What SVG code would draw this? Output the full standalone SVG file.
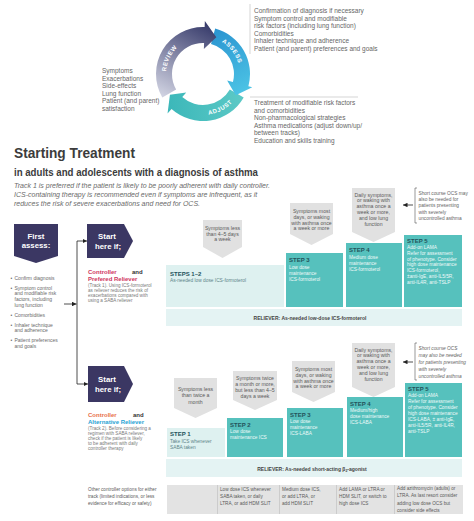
<svg xmlns="http://www.w3.org/2000/svg" width="474" height="521" viewBox="0 0 474 521">
<defs>
<style>
text{font-family:"Liberation Sans",Arial,sans-serif}
.g{fill:#666;font-size:6.5px}
.it{font-style:italic;fill:#6a6a6a;font-size:7px}
.nv{fill:#3b3763}
.wb{fill:#fff;font-weight:bold;text-anchor:middle;font-size:7.8px}
.bl{fill:#6b6b6b;font-size:5px}
.tt{fill:#7a7a7a;font-size:4.6px}
.tc{font-size:6px;font-weight:bold}
.call{fill:#e1e1e1}
.ct{fill:#5a5a5a;font-size:5.2px;text-anchor:middle}
.teal{fill:#56c1bd}
.lt{fill:#def1f0}
.rel{fill:#e4f3f3}
.sl{fill:#24535b;font-size:6px;font-weight:bold}
.sc{fill:#effaf9;font-size:4.8px}
.sc2{fill:#5d8589;font-size:4.8px}
.rt{fill:#444;font-size:5px;font-weight:bold;text-anchor:middle}
.br{fill:#666;font-size:4.8px}
.tb{fill:#5a5a5a;font-size:4.7px}
.ln{stroke:#222;stroke-width:0.8;fill:none}
.thin{stroke:#bbb;stroke-width:0.6;fill:none}
.lab{fill:#fff;font-size:6px;font-weight:bold;letter-spacing:0.6px}
</style>
<linearGradient id="gRev" gradientUnits="userSpaceOnUse" x1="170" y1="104" x2="214" y2="24"><stop offset="0" stop-color="#dadce9"/><stop offset="1" stop-color="#363a6a"/></linearGradient>
<linearGradient id="gAss" gradientUnits="userSpaceOnUse" x1="216" y1="28" x2="250" y2="94"><stop offset="0" stop-color="#2a93d0"/><stop offset="1" stop-color="#4ec6e6"/></linearGradient>
<linearGradient id="gAdj" gradientUnits="userSpaceOnUse" x1="246" y1="97" x2="170" y2="108"><stop offset="0" stop-color="#5cc9c6"/><stop offset="1" stop-color="#3bb7b9"/></linearGradient>
<marker id="ah" viewBox="0 0 6 6" refX="6" refY="3" markerWidth="4.5" markerHeight="4.5" orient="auto" markerUnits="userSpaceOnUse"><path d="M0,0 L6,3 L0,6 z" fill="#222"/></marker>
<path id="pRev" d="M171.23,85.65 A37,37 0 0,1 193.35,38.23"/>
<path id="pAss" d="M222.80,40.03 A37,37 0 0,1 242.05,64.68"/>
<path id="pAdj" d="M203.86,113.94 A41,41 0 0,0 240.39,95.33"/>
</defs>
<rect width="474" height="521" fill="#fff"/>

<g id="cycle" transform="translate(-3,1)">
<path d="M246.70,96.5 A47,47 0 0,1 174.55,107.93 L170.54,112.38 L172.93,93.67 L189.27,91.58 L185.26,96.04 A31,31 0 0,0 232.85,88.5 Z" fill="url(#gAdj)"/>
<path d="M218.16,27.60 A47,47 0 0,1 251.40,85.16 L255.3,86.2 L238.71,94.24 L230.15,79.47 L235.94,81.02 A31,31 0 0,0 214.02,43.06 Z" fill="url(#gAss)"/>
<path d="M165.30,96.5 A47,47 0 0,1 207.64,26.03 L207.85,20.03 L219.34,36.35 L206.87,48.01 L207.08,42.02 A31,31 0 0,0 179.15,88.5 Z" fill="url(#gRev)"/>
<text class="lab"><textPath href="#pRev" startOffset="50%" text-anchor="middle">REVIEW</textPath></text>
<text class="lab"><textPath href="#pAss" startOffset="50%" text-anchor="middle">ASSESS</textPath></text>
<text class="lab"><textPath href="#pAdj" startOffset="50%" text-anchor="middle">ADJUST</textPath></text>
</g>

<g id="review-text">
<text class="g" x="102" y="73">Symptoms</text>
<text class="g" x="102" y="80.5">Exacerbations</text>
<text class="g" x="102" y="88">Side-effects</text>
<text class="g" x="102" y="95.5">Lung function</text>
<text class="g" x="102" y="103">Patient (and parent)</text>
<text class="g" x="102" y="110.5">satisfaction</text>
</g>

<g id="assess-text">
<path class="thin" d="M250,4 L250,54"/>
<text class="g" x="254" y="13">Confirmation of diagnosis if necessary</text>
<text class="g" x="254" y="20.5">Symptom control and modifiable</text>
<text class="g" x="254" y="28">risk factors (including lung function)</text>
<text class="g" x="254" y="35.5">Comorbidities</text>
<text class="g" x="254" y="43">Inhaler technique and adherence</text>
<text class="g" x="254" y="50.5">Patient (and parent) preferences and goals</text>
</g>

<g id="adjust-text">
<path class="thin" d="M250,97 L358,97"/>
<text class="g" x="254" y="105">Treatment of modifiable risk factors</text>
<text class="g" x="254" y="112.5">and comorbidities</text>
<text class="g" x="254" y="120">Non-pharmacological strategies</text>
<text class="g" x="254" y="127.5">Asthma medications (adjust down/up/</text>
<text class="g" x="254" y="135">between tracks)</text>
<text class="g" x="254" y="143">Education and skills training</text>
</g>

<g id="title">
<text x="14" y="158" font-size="15.5" font-weight="bold" fill="#3c3c3c" textLength="121" lengthAdjust="spacingAndGlyphs">Starting Treatment</text>
<text x="14" y="176" font-size="10.3" font-weight="bold" fill="#3c3c3c" textLength="244" lengthAdjust="spacingAndGlyphs">in adults and adolescents with a diagnosis of asthma</text>
<text class="it" x="14" y="188">Track 1 is preferred if the patient is likely to be poorly adherent with daily controller.</text>
<text class="it" x="14" y="197">ICS-containing  therapy is recommended even if symptoms are infrequent, as it</text>
<text class="it" x="14" y="206">reduces the risk of severe exacerbations and need for OCS.</text>
</g>

<g id="first-assess">
<polygon class="nv" points="14,224 58,224 58,256 36,263 14,256"/>
<text class="wb" x="36" y="239" font-size="8">First</text>
<text class="wb" x="36" y="248" font-size="8">assess:</text>
<g class="bl">
<text x="10.5" y="279.5">•</text><text x="14.5" y="279.5">Confirm diagnosis</text>
<text x="10.5" y="289.5">•</text><text x="14.5" y="289.5">Symptom control</text>
<text x="14.5" y="295.3">and modifiable risk</text>
<text x="14.5" y="301.1">factors, including</text>
<text x="14.5" y="306.9">lung function</text>
<text x="10.5" y="316.5">•</text><text x="14.5" y="316.5">Comorbidities</text>
<text x="10.5" y="326.5">•</text><text x="14.5" y="326.5">Inhaler technique</text>
<text x="14.5" y="332.3">and adherence</text>
<text x="10.5" y="342">•</text><text x="14.5" y="342">Patient preferences</text>
<text x="14.5" y="347.8">and goals</text>
</g>
</g>

<g id="connectors">
<path class="ln" d="M77,241 L77,384"/>
<path class="ln" d="M77,241 L87,241" marker-end="url(#ah)"/>
<path class="ln" d="M77,384 L88,384" marker-end="url(#ah)"/>
<path class="ln" d="M64,304 L76.5,304" marker-end="url(#ah)"/>
<path class="ln" d="M413,205 L403,205" marker-end="url(#ah)"/>
<path class="ln" d="M413,362 L403,362" marker-end="url(#ah)"/>
</g>

<g id="track1-start">
<polygon class="nv" points="87,224 124,224 133,241 124,258 87,258"/>
<text class="wb" x="107" y="239">Start</text>
<text class="wb" x="108" y="249">here if;</text>
<text class="tc" x="88" y="274" fill="#cf3560">Controller</text>
<text class="tc" x="132" y="274" fill="#333">and</text>
<text class="tc" x="88" y="280.5" fill="#cf3560">Prefered Reliever</text>
<text class="tt" x="88" y="287">(Track 1). Using ICS-formoterol</text>
<text class="tt" x="88" y="292">as reliever reduces the risk of</text>
<text class="tt" x="88" y="297">exacerbations compared with</text>
<text class="tt" x="88" y="302">using a SABA reliever</text>
</g>

<g id="t1-call-a">
<polygon class="call" points="203,220 242,220 242,247 222.5,258 203,247"/>
<text class="ct" x="222.5" y="230">Symptoms less</text>
<text class="ct" x="222.5" y="235.5">than 4–5 days</text>
<text class="ct" x="222.5" y="241">a week</text>
</g>
<g id="t1-call-b">
<polygon class="call" points="290,203 333,203 333,234 311.5,245 290,234"/>
<text class="ct" x="311.5" y="213">Symptoms most</text>
<text class="ct" x="311.5" y="218.8">days, or waking</text>
<text class="ct" x="311.5" y="224.6">with asthma once</text>
<text class="ct" x="311.5" y="230.4">a week or more</text>
</g>
<g id="t1-call-c">
<polygon class="call" points="352,188 395,188 395,232 373.5,242 352,232"/>
<text class="ct" x="373.5" y="196.5">Daily symptoms,</text>
<text class="ct" x="373.5" y="202.3">or waking with</text>
<text class="ct" x="373.5" y="208.1">asthma once a</text>
<text class="ct" x="373.5" y="213.9">week or more,</text>
<text class="ct" x="373.5" y="219.7">and low lung</text>
<text class="ct" x="373.5" y="225.5">function</text>
</g>
<g id="t1-ocs">
<path d="M417,188 L415,188 L415,223 L417,223" stroke="#555" stroke-width="0.6" fill="none"/>
<text class="br" x="418.5" y="194.5">Short course OCS may</text>
<text class="br" x="418.5" y="200.9">also be needed for</text>
<text class="br" x="418.5" y="207.3">patients presenting</text>
<text class="br" x="418.5" y="213.7">with severely</text>
<text class="br" x="418.5" y="220.1">uncontrolled asthma</text>
</g>

<g id="t1-steps12">
<rect class="lt" x="166" y="265" width="118" height="42"/>
<text class="sl" x="170" y="275.5">STEPS 1–2</text>
<text class="sc2" x="170" y="282">As-needed low dose ICS-formoterol</text>
</g>
<g id="t1-step3">
<rect class="teal" x="286" y="253" width="57" height="54"/>
<text class="sl" x="289" y="262">STEP 3</text>
<text class="sc" x="289" y="269">Low dose</text>
<text class="sc" x="289" y="275">maintenance</text>
<text class="sc" x="289" y="281">ICS-formoterol</text>
</g>
<g id="t1-step4">
<rect class="teal" x="346" y="243" width="56" height="64"/>
<text class="sl" x="349" y="252">STEP 4</text>
<text class="sc" x="349" y="259">Medium dose</text>
<text class="sc" x="349" y="265">maintenance</text>
<text class="sc" x="349" y="271">ICS-formoterol</text>
</g>
<g id="t1-step5">
<rect class="teal" x="404" y="235" width="58" height="72"/>
<text class="sl" x="407" y="243">STEP 5</text>
<text class="sc" x="407" y="249">Add-on LAMA</text>
<text class="sc" x="407" y="254.8">Refer for assessment</text>
<text class="sc" x="407" y="260.6">of phenotype. Consider</text>
<text class="sc" x="407" y="266.4">high dose maintenance</text>
<text class="sc" x="407" y="272.2">ICS-formoterol,</text>
<text class="sc" x="407" y="278">±anti-IgE, anti-IL5/5R,</text>
<text class="sc" x="407" y="283.8">anti-IL4R, anti-TSLP</text>
</g>
<g id="t1-reliever">
<rect class="rel" x="166" y="309" width="296" height="17"/>
<text class="rt" x="310" y="319.5">RELIEVER: As-needed low-dose ICS-formoterol</text>
</g>

<g id="track2-start">
<polygon class="nv" points="88,366 124,366 133,384 124,402 88,402"/>
<text class="wb" x="107" y="381.5">Start</text>
<text class="wb" x="108" y="391.5">here if;</text>
<text class="tc" x="88" y="417" fill="#e8704a">Controller</text>
<text class="tc" x="133" y="417" fill="#333">and</text>
<text class="tc" x="88" y="423.5" fill="#27a3d4">Alternative Reliever</text>
<text class="tt" x="88" y="429.5">(Track 2). Before considering a</text>
<text class="tt" x="88" y="434.5">regimen with SABA reliever,</text>
<text class="tt" x="88" y="439.5">check if the patient is likely</text>
<text class="tt" x="88" y="444.5">to be adherent with daily</text>
<text class="tt" x="88" y="449.5">controller therapy</text>
</g>

<g id="t2-call-d">
<polygon class="call" points="174,378 217,378 217,408 195.5,418 174,408"/>
<text class="ct" x="195.5" y="391">Symptoms less</text>
<text class="ct" x="195.5" y="397.3">than twice a</text>
<text class="ct" x="195.5" y="403.6">month</text>
</g>
<g id="t2-call-e">
<polygon class="call" points="233,371 277,371 277,400 255,410 233,400"/>
<text class="ct" x="255" y="379.5">Symptoms twice</text>
<text class="ct" x="255" y="385.8">a month or more,</text>
<text class="ct" x="255" y="392.1">but less than 4–5</text>
<text class="ct" x="255" y="398.4">days a week</text>
</g>
<g id="t2-call-f">
<polygon class="call" points="292,361 335,361 335,392 313.5,402 292,392"/>
<text class="ct" x="313.5" y="371">Symptoms most</text>
<text class="ct" x="313.5" y="376.8">days, or waking</text>
<text class="ct" x="313.5" y="382.6">with asthma once</text>
<text class="ct" x="313.5" y="388.4">a week or more</text>
</g>
<g id="t2-call-g">
<polygon class="call" points="352,343 395,343 395,387 373.5,397 352,387"/>
<text class="ct" x="373.5" y="351.5">Daily symptoms,</text>
<text class="ct" x="373.5" y="357.3">or waking with</text>
<text class="ct" x="373.5" y="363.1">asthma once a</text>
<text class="ct" x="373.5" y="368.9">week or more,</text>
<text class="ct" x="373.5" y="374.7">and low lung</text>
<text class="ct" x="373.5" y="380.5">function</text>
</g>
<g id="t2-ocs">
<path d="M417,343 L415,343 L415,380 L417,380" stroke="#555" stroke-width="0.6" fill="none"/>
<text class="br" x="418.5" y="349.5" font-style="italic" font-size="5">Short course OCS</text>
<text class="br" x="418.5" y="356.5" font-style="italic" font-size="5">may also be needed</text>
<text class="br" x="418.5" y="363.5" font-style="italic" font-size="5">for patients presenting</text>
<text class="br" x="418.5" y="370.5" font-style="italic" font-size="5">with severely</text>
<text class="br" x="418.5" y="377.5" font-style="italic" font-size="5">uncontrolled asthma</text>
</g>

<g id="t2-step1">
<rect class="lt" x="167" y="428" width="58" height="29"/>
<text class="sl" x="170" y="436">STEP 1</text>
<text class="sc2" x="170" y="442.5">Take ICS whenever</text>
<text class="sc2" x="170" y="448.5">SABA taken</text>
</g>
<g id="t2-step2">
<rect class="teal" x="227" y="418" width="56" height="39"/>
<text class="sl" x="230" y="427">STEP 2</text>
<text class="sc" x="230" y="433">Low dose</text>
<text class="sc" x="230" y="439">maintenance ICS</text>
</g>
<g id="t2-step3">
<rect class="teal" x="287" y="408" width="56" height="49"/>
<text class="sl" x="290" y="417">STEP 3</text>
<text class="sc" x="290" y="423">Low dose</text>
<text class="sc" x="290" y="429">maintenance</text>
<text class="sc" x="290" y="435">ICS-LABA</text>
</g>
<g id="t2-step4">
<rect class="teal" x="347" y="397" width="56" height="60"/>
<text class="sl" x="350" y="405.5">STEP 4</text>
<text class="sc" x="350" y="411.5">Medium/high</text>
<text class="sc" x="350" y="417.5">dose maintenance</text>
<text class="sc" x="350" y="423.5">ICS-LABA</text>
</g>
<g id="t2-step5">
<rect class="teal" x="405" y="383" width="57" height="74"/>
<text class="sl" x="408" y="391">STEP 5</text>
<text class="sc" x="408" y="397">Add-on LAMA</text>
<text class="sc" x="408" y="403">Refer for assessment</text>
<text class="sc" x="408" y="409">of phenotype. Consider</text>
<text class="sc" x="408" y="415">high dose maintenance</text>
<text class="sc" x="408" y="421">ICS-LABA, ± anti-IgE,</text>
<text class="sc" x="408" y="427">anti-IL5/5R, anti-IL4R,</text>
<text class="sc" x="408" y="433">anti-TSLP</text>
</g>
<g id="t2-reliever">
<rect class="rel" x="166" y="459" width="296" height="18"/>
<text class="rt" x="312" y="470.5">RELIEVER: As-needed short-acting β<tspan font-size="3.5" dy="1">2</tspan><tspan dy="-1">-agonist</tspan></text>
</g>

<g id="other-options">
<text class="tb" x="88" y="491">Other controller options for either</text>
<text class="tb" x="88" y="498">track (limited indications, or less</text>
<text class="tb" x="88" y="505">evidence for efficacy or safety)</text>
<rect x="167" y="485" width="296" height="29" fill="#e3e3e3"/>
<path d="M217.5,485 V514 M279.5,485 V514 M336.5,485 V514 M394.5,485 V514" stroke="#c6c6c6" stroke-width="0.8"/>
<text class="tb" x="220" y="491">Low dose ICS whenever</text>
<text class="tb" x="220" y="498">SABA taken, or daily</text>
<text class="tb" x="220" y="505">LTRA, or add HDM SLIT</text>
<text class="tb" x="282" y="491">Medium dose ICS,</text>
<text class="tb" x="282" y="498">or add LTRA, or</text>
<text class="tb" x="282" y="505">add HDM SLIT</text>
<text class="tb" x="339" y="491">Add LAMA or LTRA or</text>
<text class="tb" x="339" y="498">HDM SLIT, or switch to</text>
<text class="tb" x="339" y="505">high dose ICS</text>
<text class="tb" x="397" y="490">Add azithromycin (adults) or</text>
<text class="tb" x="397" y="497.3">LTRA. As last resort consider</text>
<text class="tb" x="397" y="504.6">adding low dose OCS but</text>
<text class="tb" x="397" y="511.9">consider side effects</text>
</g>
</svg>
